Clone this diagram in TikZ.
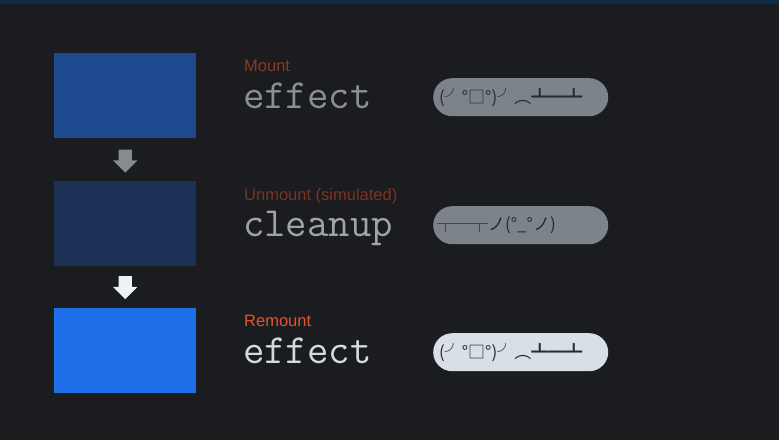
\documentclass[tikz,border=0pt]{standalone}
\usepackage{fontspec}
\setmainfont{Liberation Sans}
\newfontfamily\kaofont{Noto Sans CJK JP}
\usetikzlibrary{shapes.arrows,calc}
\newlength{\du}
\setlength{\du}{1pt}

\begin{document}
\begin{tikzpicture}[x=\du,y=-\du,
  stage/.style={anchor=north west,inner sep=0pt,minimum width=142\du,minimum height=85\du},
  phase/.style={anchor=base west,inner sep=0pt,text depth=0pt,font=\fontsize{16.5}{16.5}\selectfont},
  hook/.style={anchor=base west,inner sep=0pt,text height=25\du,font=\ttfamily\fontsize{41.5}{41.5}\selectfont},
  pill/.style={anchor=north west,inner sep=0pt,rounded corners=19\du,minimum width=175\du,minimum height=38\du},
  kao/.style={anchor=west,inner sep=0pt,font=\kaofont\fontsize{17}{17}\selectfont},
  flow/.style={single arrow,shape border rotate=270,inner sep=6.5\du,minimum height=23\du,single arrow head extend=5.5\du}]
\definecolor{bgcol}{RGB}{27,28,31}
\definecolor{topcol}{RGB}{14,44,72}
\definecolor{mountcol}{RGB}{29,74,142}
\definecolor{unmountcol}{RGB}{28,49,85}
\definecolor{remountcol}{RGB}{31,111,232}
\definecolor{arrowdim}{RGB}{136,139,142}
\definecolor{arrowlit}{RGB}{238,242,247}
\definecolor{mountred}{RGB}{138,58,37}
\definecolor{unmountred}{RGB}{122,51,34}
\definecolor{remountred}{RGB}{226,84,45}
\definecolor{hookdim}{RGB}{140,144,150}
\definecolor{hookmid}{RGB}{160,164,168}
\definecolor{hooklit}{RGB}{212,217,224}
\definecolor{pilldim}{RGB}{125,131,138}
\definecolor{pilllit}{RGB}{217,223,231}
\definecolor{kaodark}{RGB}{40,43,48}
% background
\fill[bgcol] (0,0) rectangle (779,440);
\fill[topcol] (0,0) rectangle (779,4);
% stages
\node[stage,fill=mountcol] (mount) at (54,53) {};
\node[stage,fill=unmountcol] (unmount) at (54,181) {};
\node[stage,fill=remountcol] (remount) at (54,308) {};
\node[flow,fill=arrowdim] (down1) at ($(mount.south)!0.5!(unmount.north)+(0,-2)$) {};
\node[flow,fill=arrowlit] (down2) at ($(unmount.south)!0.5!(remount.north)+(0,-3)$) {};
% labels
\node[phase,text=mountred] (mountlbl) at (244,71) {Mount};
\node[hook,text=hookdim] (mounthook) at (243,108) {effect};
\node[phase,text=unmountred] (unmountlbl) at (244,200) {Unmount (simulated)};
\node[hook,text=hookmid] (unmounthook) at (243,236) {cleanup};
\node[phase,text=remountred] (remountlbl) at (244,326) {Remount};
\node[hook,text=hooklit] (remounthook) at (243,363) {effect};
% pills
\node[pill,fill=pilldim] (flip) at (433,78) {};
\node[kao,text=kaodark] (flipkao) at ($(flip.west)+(6,0)$) {(╯°□°)╯︵┻━┻};
\node[pill,fill=pilldim] (unflip) at (433,206) {};
\node[kao,text=kaodark] (unflipkao) at ($(unflip.west)+(4,0)$) {┬─┬ノ(°\_°ノ)};
\node[pill,fill=pilllit] (reflip) at (433,333) {};
\node[kao,text=kaodark] (reflipkao) at ($(reflip.west)+(6,0)$) {(╯°□°)╯︵┻━┻};
\end{tikzpicture}
\end{document}
